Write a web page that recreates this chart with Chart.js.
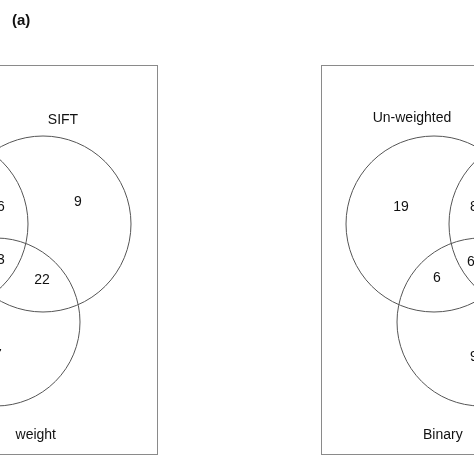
<!DOCTYPE html>
<html><head><meta charset="utf-8">
<script src="https://cdn.jsdelivr.net/npm/chart.js@4"></script>
<style>html,body{margin:0;padding:0;background:#fff}</style>
</head><body>
<canvas id="c" width="474" height="474"></canvas>
<script>
// Venn circles: centre x, centre y, radius (in chart units)
const circleX = [43, -60, -4, 434, 537, 481];
const circleY = [224, 224, 322, 224, 224, 322];
const circleR = [88, 88, 84, 88, 88, 84];
// Set labels and region counts
const labelTexts = ["SIFT", "weight", "Un-weighted", "Binary"];
const labelX = [63, 56, 412, 423];
const labelY = [120, 435, 118, 435];
const labelAlign = ["center", "right", "center", "left"];
const countTexts = ["9", "6", "63", "22", "7", "19", "8", "6", "6", "9"];
const countX = [78, 1, -3, 42, -2, 401, 474, 437, 471, 474];
const countY = [202, 207, 260, 280, 355, 207, 207, 278, 262, 357];
// Panel frames: x0, x1
const panelX0 = [-20, 321];
const panelX1 = [157, 494];
const panelTop = 65, panelBottom = 454;

const overlay = {
  id: 'overlay',
  afterDatasetsDraw(chart) {
    const ctx = chart.ctx, xs = chart.scales.x, ys = chart.scales.y;
    const px = v => xs.getPixelForValue(v), py = v => ys.getPixelForValue(v);
    ctx.save();
    ctx.strokeStyle = '#8a8a8a'; ctx.lineWidth = 1;
    for (let i = 0; i < panelX0.length; i++) {
      ctx.strokeRect(px(panelX0[i]) + 0.5, py(panelTop) + 0.5, px(panelX1[i]) - px(panelX0[i]), py(panelBottom) - py(panelTop));
    }
    ctx.strokeStyle = '#555';
    for (let i = 0; i < circleX.length; i++) {
      const cx = px(circleX[i]), cy = py(circleY[i]);
      const rr = Math.abs(px(circleX[i] + circleR[i]) - cx);
      ctx.beginPath(); ctx.arc(cx, cy, rr, 0, Math.PI * 2); ctx.stroke();
    }
    ctx.fillStyle = '#111'; ctx.textBaseline = 'middle';
    ctx.font = '14px "Liberation Sans", Arial, sans-serif';
    for (let i = 0; i < labelTexts.length; i++) {
      ctx.textAlign = labelAlign[i];
      ctx.fillText(labelTexts[i], px(labelX[i]), py(labelY[i]));
    }
    ctx.textAlign = 'center';
    for (let i = 0; i < countTexts.length; i++) {
      ctx.fillText(countTexts[i], px(countX[i]), py(countY[i]));
    }
    ctx.font = 'bold 15px "Liberation Sans", Arial, sans-serif';
    ctx.textAlign = 'left';
    ctx.fillText('(a)', px(12), py(21));
    ctx.restore();
  }
};

new Chart(document.getElementById('c'), {
  type: 'scatter',
  data: { datasets: [{
    data: circleX.map((x, i) => ({ x: x, y: circleY[i] })),
    pointRadius: 0, hoverRadius: 0, showLine: false
  }]},
  options: {
    responsive: false, animation: false, events: [],
    layout: { padding: 0 },
    plugins: { legend: { display: false }, tooltip: { enabled: false } },
    scales: {
      x: { type: 'linear', min: 0, max: 474, display: false, offset: false },
      y: { type: 'linear', min: 0, max: 474, reverse: true, display: false }
    }
  },
  plugins: [overlay]
});
</script>
</body></html>
